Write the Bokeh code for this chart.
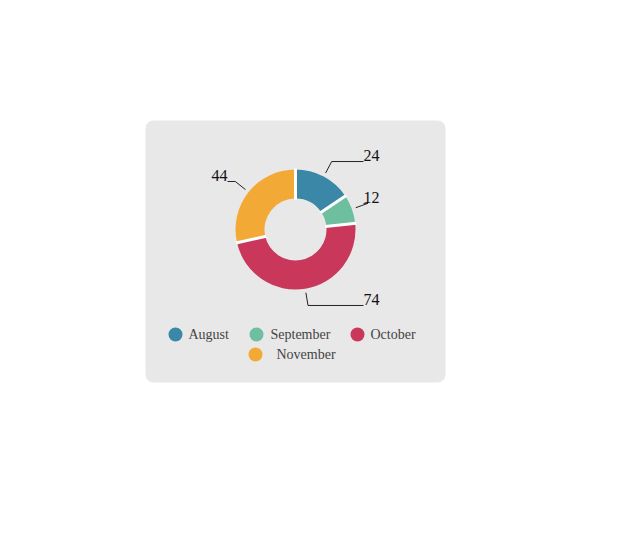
import numpy as np
from bokeh.plotting import figure
from bokeh.models import Range1d
from bokeh.core.properties import value
from bokeh.embed import file_html
from bokeh.resources import INLINE

# ---- data ----
months = ["August", "September", "October", "November"]
counts = [24, 12, 74, 44]
colors = ["#3A87A7", "#6DBFA0", "#C9375A", "#F3A935"]

# ---- layout (page pixels) ----
W, H = 600, 520
def px(X):
    return X
def py(Y):
    return H - Y

CX, CY = px(295), py(229)
R_IN, R_OUT = 31, 60
R_LINE0, R_LINE1 = 64, 77
LABEL_RIGHT_X, LABEL_LEFT_X = px(363), px(227)
LABEL_RAISE = 6
FONT = "Liberation Serif"

p = figure(width=W, height=H, output_backend="svg", toolbar_location=None,
           x_range=Range1d(0, W), y_range=Range1d(0, H), min_border=0)
p.axis.visible = False
p.grid.visible = False
p.outline_line_color = None
p.background_fill_color = "white"
p.border_fill_color = "white"

# panel
p.quad(left=px(145), right=px(445), top=py(120), bottom=py(382),
       fill_color="#E8E8E8", line_color=None, border_radius=8)

# donut
vals = np.array(counts, dtype=float)
cum = np.concatenate([[0.0], np.cumsum(vals / vals.sum())])
start = np.pi / 2 - 2 * np.pi * cum[:-1]
end = np.pi / 2 - 2 * np.pi * cum[1:]
mid = (start + end) / 2

p.annular_wedge(x=CX, y=CY, inner_radius=R_IN, outer_radius=R_OUT,
                start_angle=start, end_angle=end, direction="clock",
                fill_color=colors, line_color=None)

# white separators between slices
b = start
p.segment(x0=CX + (R_IN - 1) * np.cos(b), y0=CY + (R_IN - 1) * np.sin(b),
          x1=CX + (R_OUT + 1) * np.cos(b), y1=CY + (R_OUT + 1) * np.sin(b),
          line_color="white", line_width=3)

# leader lines and value labels
xs, ys, tx, ty, ta = [], [], [], [], []
for m in mid:
    c, s = np.cos(m), np.sin(m)
    x0, y0 = CX + R_LINE0 * c, CY + R_LINE0 * s
    x1, y1 = CX + R_LINE1 * c, CY + R_LINE1 * s
    x2 = LABEL_RIGHT_X if c >= 0 else LABEL_LEFT_X
    xs.append([x0, x1, x2])
    ys.append([y0, y1, y1])
    tx.append(x2)
    ty.append(y1 + LABEL_RAISE)
    ta.append("left" if c >= 0 else "right")
p.multi_line(xs=xs, ys=ys, line_color="#222222", line_width=1)
p.text(x=tx, y=ty, text=[str(v) for v in counts], text_align=ta,
       text_baseline="middle", text_font=value(FONT),
       text_font_size="16px", text_color="#111111")

# legend (manual, wraps to two rows)
leg_cx = [px(175), px(256), px(357), px(255)]
leg_cy = [py(334), py(334), py(334), py(354)]
leg_tx = [px(188), px(270), px(370), px(276)]
p.scatter(x=leg_cx, y=leg_cy, size=14, marker="circle",
          fill_color=colors, line_color=None)
p.text(x=leg_tx, y=leg_cy, text=months, text_align="left",
       text_baseline="middle", text_font=value(FONT),
       text_font_size="14px", text_color="#444444")

open("out.html", "w").write(file_html(p, INLINE))
